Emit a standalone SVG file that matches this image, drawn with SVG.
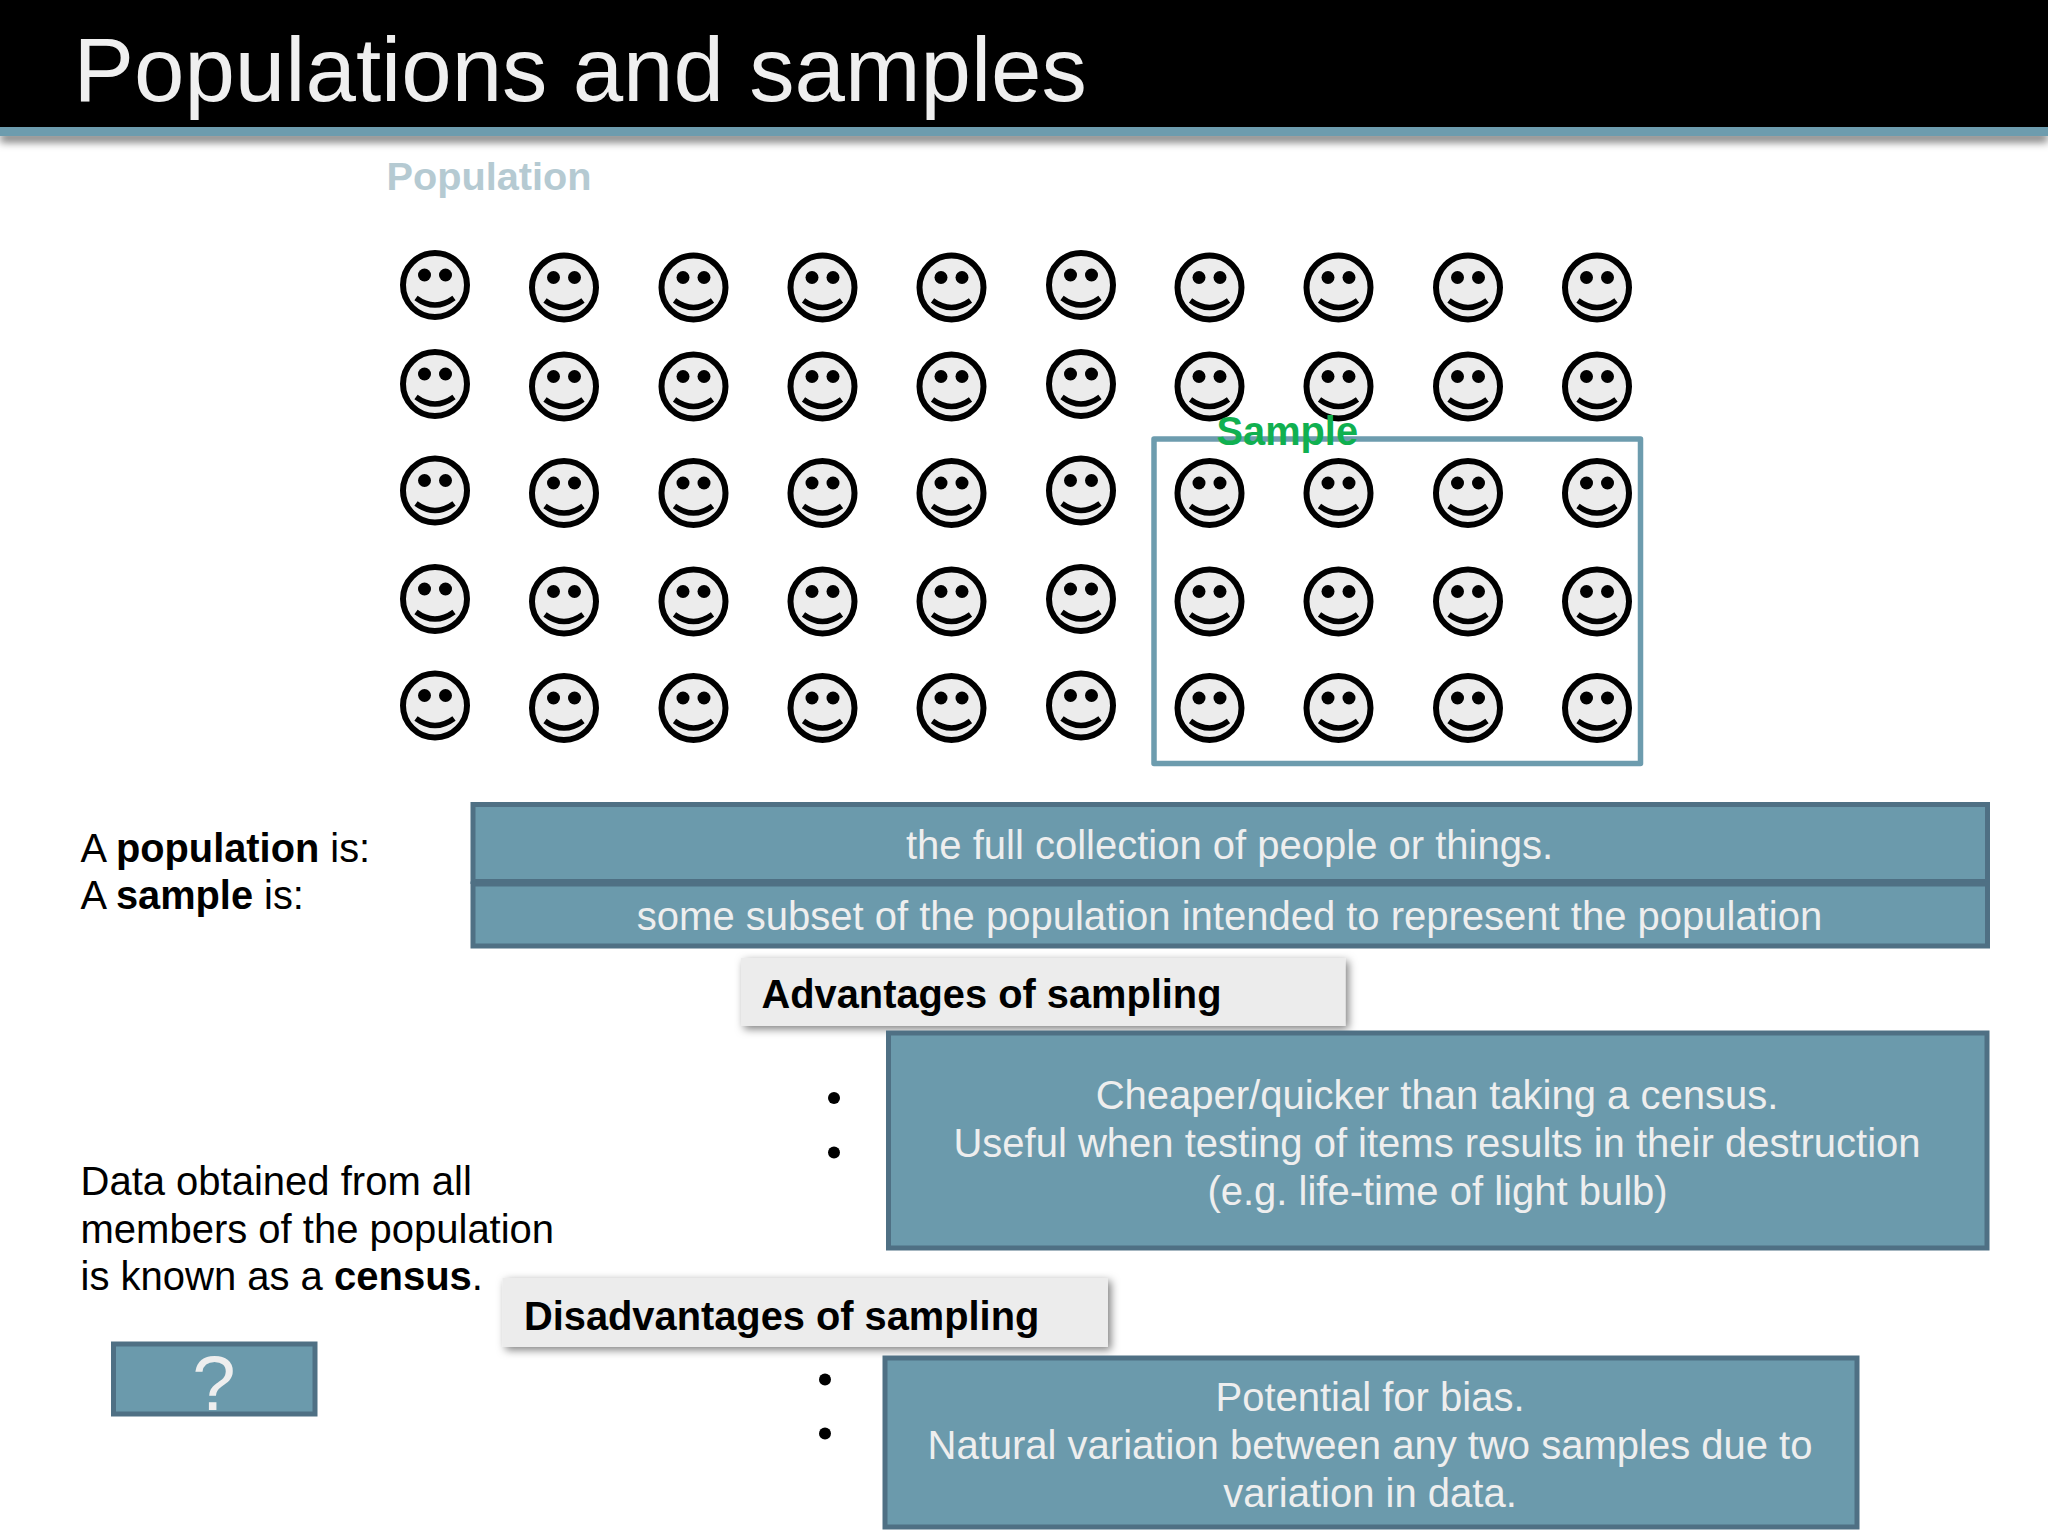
<svg xmlns="http://www.w3.org/2000/svg" width="2048" height="1536" viewBox="0 0 2048 1536">
<style>
text{font-family:"Liberation Sans",Arial,sans-serif}
.box{fill:#6b9aac;stroke:#4f7084;stroke-width:5}
.w{fill:#eeeeee;font-size:40px;text-anchor:middle}
.k{fill:#000;font-size:39.800px}
.c{fill:#000;font-size:40px}
.h{fill:#000;font-size:39.800px;font-weight:700}
.lab{fill:#ececec;filter:url(#sh)}
.f{fill:#ececec;stroke:#000;stroke-width:6}
.m{fill:none;stroke:#000;stroke-width:5.500}
</style>
<defs>
<filter id="sh" x="-5%" y="-25%" width="110%" height="150%"><feDropShadow dx="3" dy="3" stdDeviation="4" flood-color="#000" flood-opacity=".5"/></filter>
<filter id="bs" x="-1%" y="-50%" width="102%" height="400%"><feDropShadow dx="0" dy="6" stdDeviation="4" flood-color="#000" flood-opacity=".55"/></filter>
<g id="s"><circle class="f" r="32"/><circle cx="-10.500" cy="-10" r="6.500"/><circle cx="10.500" cy="-10" r="6.500"/><path class="m" d="M-19 13Q0 27 19 13"/></g>
</defs>
<rect width="2048" height="1536" fill="#fff"/>
<g id="header"><rect y="127" width="2048" height="9" fill="#6d9cae" filter="url(#bs)"/><rect width="2048" height="127" fill="#000"/><text x="73.500" y="101" font-size="90.700" fill="#efefef">Populations and samples</text></g>
<text id="population-label" x="386.500" y="190" font-size="39.700" font-weight="700" fill="#b5cad2">Population</text>
<g id="smileys">
<use href="#s" x="435" y="285"/><use href="#s" x="564" y="287.500"/><use href="#s" x="693.500" y="287.500"/><use href="#s" x="822.500" y="287.500"/><use href="#s" x="951.500" y="287.500"/><use href="#s" x="1081" y="285"/><use href="#s" x="1209.500" y="287.500"/><use href="#s" x="1338.500" y="287.500"/><use href="#s" x="1468" y="287.500"/><use href="#s" x="1597" y="287.500"/>
<use href="#s" x="435" y="384"/><use href="#s" x="564" y="386.500"/><use href="#s" x="693.500" y="386.500"/><use href="#s" x="822.500" y="386.500"/><use href="#s" x="951.500" y="386.500"/><use href="#s" x="1081" y="384"/><use href="#s" x="1209.500" y="386.500"/><use href="#s" x="1338.500" y="386.500"/><use href="#s" x="1468" y="386.500"/><use href="#s" x="1597" y="386.500"/>
<use href="#s" x="435" y="490.500"/><use href="#s" x="564" y="493"/><use href="#s" x="693.500" y="493"/><use href="#s" x="822.500" y="493"/><use href="#s" x="951.500" y="493"/><use href="#s" x="1081" y="490.500"/><use href="#s" x="1209.500" y="493"/><use href="#s" x="1338.500" y="493"/><use href="#s" x="1468" y="493"/><use href="#s" x="1597" y="493"/>
<use href="#s" x="435" y="599"/><use href="#s" x="564" y="601.500"/><use href="#s" x="693.500" y="601.500"/><use href="#s" x="822.500" y="601.500"/><use href="#s" x="951.500" y="601.500"/><use href="#s" x="1081" y="599"/><use href="#s" x="1209.500" y="601.500"/><use href="#s" x="1338.500" y="601.500"/><use href="#s" x="1468" y="601.500"/><use href="#s" x="1597" y="601.500"/>
<use href="#s" x="435" y="705.500"/><use href="#s" x="564" y="708"/><use href="#s" x="693.500" y="708"/><use href="#s" x="822.500" y="708"/><use href="#s" x="951.500" y="708"/><use href="#s" x="1081" y="705.500"/><use href="#s" x="1209.500" y="708"/><use href="#s" x="1338.500" y="708"/><use href="#s" x="1468" y="708"/><use href="#s" x="1597" y="708"/>
</g>
<g id="sample"><rect x="1154" y="439" width="486.500" height="324.500" fill="none" stroke="#6d9cae" stroke-width="5.500" stroke-linejoin="round"/><text x="1216.500" y="445" font-size="39.800" font-weight="700" fill="#10b050">Sample</text></g>
<g id="definitions">
<text class="k" x="80.500" y="862">A <tspan font-weight="700">population</tspan> is:</text>
<text class="k" x="80.500" y="909">A <tspan font-weight="700">sample</tspan> is:</text>
</g>
<g id="population-def"><rect class="box" x="473" y="804.500" width="1514.500" height="77"/><text class="w" x="1229.500" y="859">the full collection of people or things.</text></g>
<g id="sample-def"><rect class="box" x="473" y="884" width="1514.500" height="62"/><text class="w" x="1229.500" y="930">some subset of the population intended to represent the population</text></g>
<g id="advantages-label"><rect class="lab" x="741" y="958" width="604.500" height="68"/><text class="h" x="761.500" y="1008">Advantages of sampling</text></g>
<g id="advantages-bullets"><circle cx="834" cy="1098" r="6"/><circle cx="834" cy="1152.500" r="6"/></g>
<g id="advantages"><rect class="box" x="888.500" y="1033" width="1098.500" height="215"/>
<text class="w" x="1437" y="1109">Cheaper/quicker than taking a census.</text><text class="w" x="1437" y="1157">Useful when testing of items results in their destruction</text><text class="w" x="1437.500" y="1205">(e.g. life-time of light bulb)</text></g>
<g id="census"><text class="c" x="80.500" y="1195">Data obtained from all</text><text class="c" x="80.500" y="1243">members of the population</text><text class="c" x="80.500" y="1290">is known as a <tspan font-weight="700">census</tspan>.</text></g>
<g id="question"><rect class="box" x="113.500" y="1344" width="201.500" height="70"/><text class="w" x="214" y="1410" style="font-size:78px">?</text></g>
<g id="disadvantages-label"><rect class="lab" x="502.500" y="1278" width="605.500" height="69"/><text class="h" x="524" y="1329.500">Disadvantages of sampling</text></g>
<g id="disadvantages-bullets"><circle cx="825" cy="1379.500" r="6"/><circle cx="825" cy="1433.500" r="6"/></g>
<g id="disadvantages"><rect class="box" x="885" y="1358" width="972" height="169"/>
<text class="w" x="1370" y="1411">Potential for bias.</text><text class="w" x="1370" y="1459">Natural variation between any two samples due to</text><text class="w" x="1370" y="1507">variation in data.</text></g>
</svg>
